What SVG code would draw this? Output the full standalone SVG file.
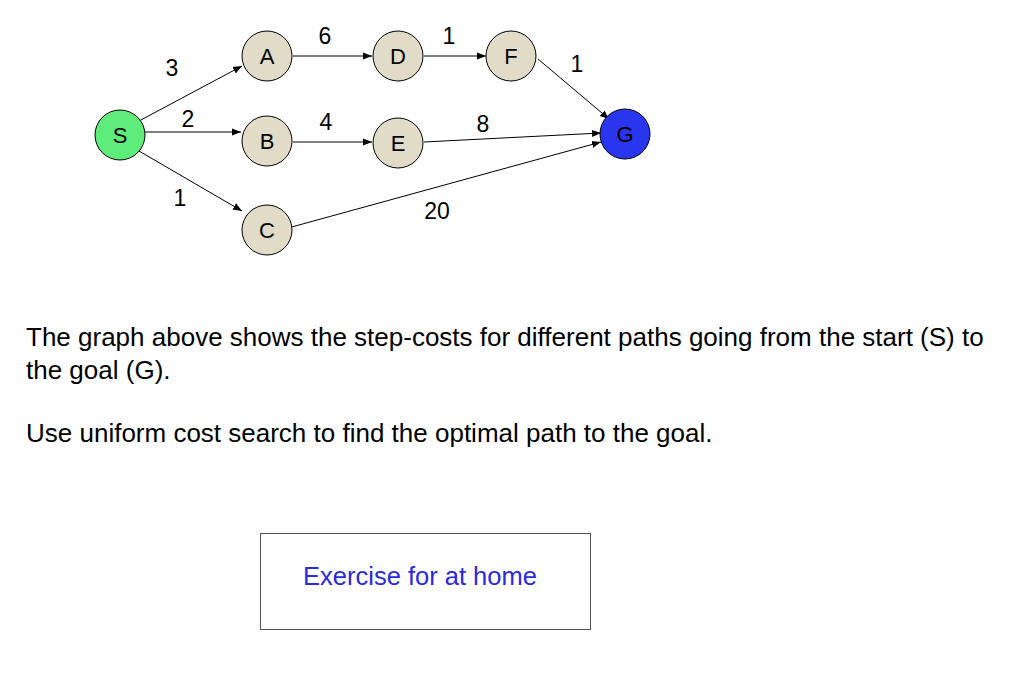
<svg xmlns="http://www.w3.org/2000/svg" width="1024" height="682" viewBox="0 0 1024 682">
<style>
text{font-family:"Liberation Sans",Arial,sans-serif;fill:#000}
.n{fill:#e0dcc8;stroke:#000;stroke-width:1}
.nl{font-size:22px;text-anchor:middle}
.e{stroke:#000;stroke-width:1;fill:none;marker-end:url(#ah)}
.w{font-size:23px;text-anchor:middle}
.p{font-size:26px}
</style>
<defs><marker id="ah" viewBox="0 0 10 10" refX="10" refY="5" markerWidth="9" markerHeight="9" markerUnits="userSpaceOnUse" orient="auto"><path d="M0,1L10,5L0,9z" fill="#000"/></marker></defs>
<rect width="1024" height="682" fill="#fff"/>
<g id="edges">
<line class="e" x1="139" y1="121" x2="242" y2="66"/>
<line class="e" x1="145" y1="132" x2="241" y2="132"/>
<line class="e" x1="139" y1="151" x2="242" y2="211"/>
<line class="e" x1="293" y1="56" x2="372" y2="56"/>
<line class="e" x1="424" y1="56" x2="486" y2="56"/>
<line class="e" x1="538" y1="59" x2="609" y2="119"/>
<line class="e" x1="293" y1="142" x2="372" y2="142"/>
<line class="e" x1="424" y1="142" x2="601" y2="133"/>
<line class="e" x1="288" y1="228" x2="601" y2="142"/>
<text class="w" x="172" y="76">3</text>
<text class="w" x="188" y="127">2</text>
<text class="w" x="180" y="206">1</text>
<text class="w" x="325" y="44">6</text>
<text class="w" x="326" y="130">4</text>
<text class="w" x="449" y="44">1</text>
<text class="w" x="483" y="132">8</text>
<text class="w" x="577" y="72">1</text>
<text class="w" x="437" y="219">20</text>
</g>
<g id="S"><circle cx="120" cy="135" r="25" fill="#5eed7a" stroke="#000"/><text class="nl" x="120" y="143">S</text></g>
<g id="A"><circle class="n" cx="267" cy="56" r="25"/><text class="nl" x="267" y="64">A</text></g>
<g id="D"><circle class="n" cx="398" cy="56" r="25"/><text class="nl" x="398" y="64">D</text></g>
<g id="F"><circle class="n" cx="511" cy="56" r="25"/><text class="nl" x="511" y="64">F</text></g>
<g id="B"><circle class="n" cx="267" cy="141" r="25"/><text class="nl" x="267" y="149">B</text></g>
<g id="E"><circle class="n" cx="398" cy="143" r="25"/><text class="nl" x="398" y="151">E</text></g>
<g id="C"><circle class="n" cx="267" cy="230" r="25"/><text class="nl" x="267" y="238">C</text></g>
<g id="G"><circle cx="625" cy="134" r="25" fill="#2a35ee" stroke="#000"/><text class="nl" x="625" y="142">G</text></g>
<text class="p" x="26" y="346">The graph above shows the step-costs for different paths going from the start (S) to</text>
<text class="p" x="26" y="379">the goal (G).</text>
<text class="p" x="26" y="442">Use uniform cost search to find the optimal path to the goal.</text>
<rect x="260.5" y="533.5" width="330" height="96" fill="#fff" stroke="#555"/>
<text x="420" y="585" font-size="25.5" text-anchor="middle" style="fill:#2a2ae0">Exercise for at home</text>
</svg>
